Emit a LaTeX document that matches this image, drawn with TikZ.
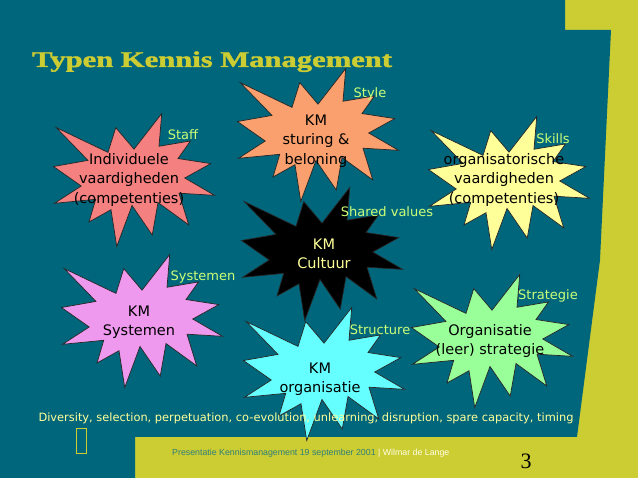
\documentclass[tikz,border=0pt]{standalone}
\usepackage{graphicx}
\usepackage{fontspec}
\setmainfont{Liberation Serif}
\newfontfamily\titlefont{Liberation Serif}[BoldFeatures={FakeBold=1.6}]
\newfontfamily\comicfont{DejaVu Sans}
\newfontfamily\footfont{Liberation Sans}

\definecolor{slideteal}{HTML}{00667C}
\definecolor{slideolive}{HTML}{CCCC33}
\definecolor{kwgreen}{HTML}{CCFF77}
\definecolor{paleyellow}{HTML}{FFFF99}
\definecolor{footteal}{HTML}{2E7F78}
\definecolor{sealpink}{HTML}{F4807F}
\definecolor{sealorange}{HTML}{F9A06E}
\definecolor{sealcyan}{HTML}{66FFFF}
\definecolor{sealviolet}{HTML}{EE99EE}
\definecolor{sealyellow}{HTML}{FFFF99}
\definecolor{sealgreen}{HTML}{99FF99}

\tikzset{
  seal/.pic={
    \draw[x=161pt,y=-133pt,shift={(-0.5,-0.5)},draw=black!85,line width=0.7pt,fill=#1]
      (0.5,0.2685) -- (0.6723,0) -- (0.6553,0.2465) -- (0.8509,0.2063) -- (0.7732,0.3387)
      -- (0.9767,0.3767) -- (0.8151,0.4850) -- (1,0.6153) -- (0.7795,0.5992) -- (0.8400,0.8377)
      -- (0.6491,0.6693) -- (0.6133,0.9138) -- (0.4876,0.6914) -- (0.3928,1) -- (0.3572,0.7235)
      -- (0.2205,0.8156) -- (0.2624,0.6452) -- (0.0063,0.6753) -- (0.1723,0.5451) -- (0,0.3988)
      -- (0.2142,0.3526) -- (0.0171,0.1063) -- (0.3385,0.2926) -- (0.3867,0.1063) -- cycle;
  },
  startext/.style={align=center,inner sep=0pt,font=\comicfont\fontsize{14.5}{19.5}\selectfont,text=black},
  keyword/.style={inner sep=0pt,font=\comicfont\fontsize{13}{15}\selectfont,text=kwgreen},
}

\begin{document}
\begin{tikzpicture}[x=1pt,y=-1pt]
\useasboundingbox (0,0) rectangle (638,478);
% background
\fill[slideolive] (0,0) rectangle (638,478);
\fill[slideteal] (0,0) -- (565,0) -- (565,30) -- (611,30) -- (600,260) -- (577,437)
  -- (135,437) -- (135,478) -- (0,478) -- cycle;
\node[anchor=base west,inner sep=0pt,text=slideolive,font=\titlefont\bfseries\fontsize{22.5}{27}\selectfont]
  (title) at (32,67) {\scalebox{1.36}[1]{Typen Kennis Management}};

% stars
\pic (indivstar) at (134,180) {seal=sealpink};
\pic (sturingstar) at (318,135) {seal=sealorange};
\pic (orgvaardstar) at (509,183) {seal=sealyellow};
\pic (cultuurstar) at (322,254) {seal=black};
\pic (systemstar) at (142,321) {seal=sealviolet};
\pic (organisatiestar) at (324,374) {seal=sealcyan};
\pic (strategiestar) at (492,341) {seal=sealgreen};

\node[startext] (indiv) at (129,180) {Individuele\\vaardigheden\\(competenties)};
\node[startext] (sturing) at (316,141) {KM\\sturing \&\\beloning};
\node[startext] (orgvaard) at (504,180) {organisatorische\\vaardigheden\\(competenties)};
\node[startext,text=paleyellow] (cultuur) at (324,254) {KM\\Cultuur};
\node[startext] (systemen) at (139,322) {KM\\Systemen};
\node[startext] (organisatie) at (320,379) {KM\\organisatie};
\node[startext] (strategie) at (490,341) {Organisatie\\(leer) strategie};

% the seven S
\node[keyword] (style) at (370,94) {Style};
\node[keyword] (staff) at (183,135) {Staff};
\node[keyword] (skills) at (553,139) {Skills};
\node[keyword] (shared) at (387,212) {Shared values};
\node[keyword] (systems) at (203,277) {Systemen};
\node[keyword] (strategy) at (548,296) {Strategie};
\node[keyword] (structure) at (380,330) {Structure};

\node[inner sep=0pt,text=paleyellow,font=\comicfont\fontsize{11.4}{13}\selectfont] (diversity) at (306,418)
  {Diversity, selection, perpetuation, co-evolution, unlearning, disruption, spare capacity, timing};
\draw[slideolive,line width=0.8pt] (76,428) rectangle (86,453);
\node[anchor=west,inner sep=0pt,font=\footfont\fontsize{8.8}{10}\selectfont] (footer) at (172,453)
  {\textcolor{footteal}{Presentatie Kennismanagement 19 september 2001} \textcolor{white!90!yellow}{| Wilmar de Lange}};
\node[inner sep=0pt,font=\fontsize{22}{24}\selectfont] (pagenr) at (526,461) {3};
\end{tikzpicture}
\end{document}
